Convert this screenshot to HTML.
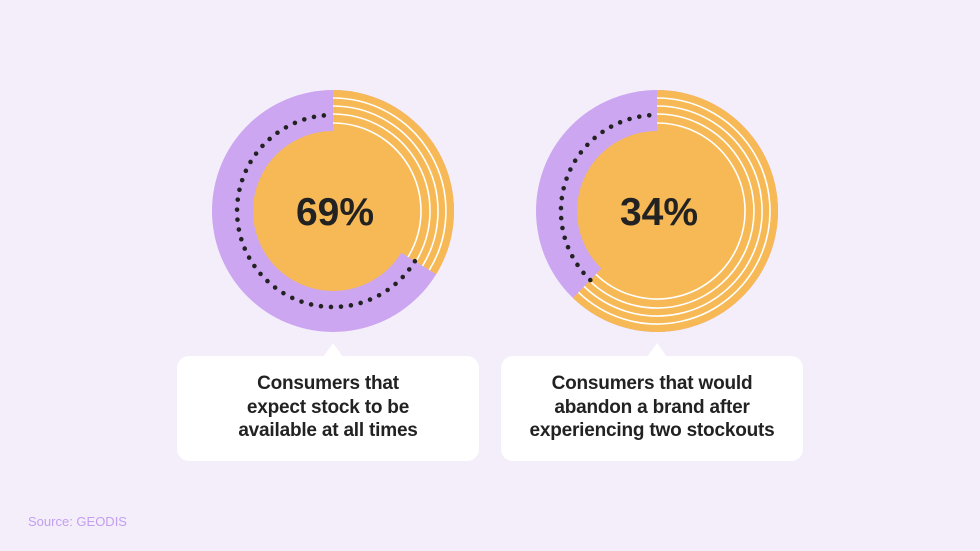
<!DOCTYPE html>
<html><head><meta charset="utf-8"><style>
body{margin:0;width:980px;height:551px;background:#f4eefb;overflow:hidden;font-family:"Liberation Sans",sans-serif}
svg{position:absolute;left:0;top:0}
.box{position:absolute;top:356px;width:302px;height:105px;background:#fff;border-radius:12px;text-align:center;font-weight:bold;font-size:19px;line-height:23.5px;color:#222;box-sizing:border-box;padding-top:16px;letter-spacing:-0.2px}
.src{position:absolute;left:28px;top:514px;font-size:13px;color:#c39ef0}
</style></head><body>
<svg width="980" height="551" viewBox="0 0 980 551">
<g fill="none">
<circle cx="333" cy="211" r="121" fill="#cca6f0"/>
<path d="M333,211 L333,90 A121,121 0 0 1 436.2,274.2 Z" fill="#f6b955"/>
<circle cx="333" cy="211" r="80" fill="#f6b955"/>
<g stroke="#fff" stroke-width="1.6">
<path d="M333,98 A113,113 0 0 1 429.3,270.0"/>
<path d="M333,106 A105,105 0 0 1 422.5,265.9"/>
<path d="M333,114 A97,97 0 0 1 415.7,261.7"/>
<path d="M333,123 A88,88 0 0 1 408.0,257.0"/>
</g>
<path d="M414.9,261.2 A96,96 0 1 1 333,115" stroke="#222" stroke-width="4.6" stroke-linecap="round" stroke-dasharray="0 10"/>

<circle cx="657" cy="211" r="121" fill="#cca6f0"/>
<path d="M657,211 L657,90 A121,121 0 1 1 572.9,298.0 Z" fill="#f6b955"/>
<circle cx="657" cy="211" r="80" fill="#f6b955"/>
<g stroke="#fff" stroke-width="1.6">
<path d="M657,98 A113,113 0 1 1 578.5,292.3"/>
<path d="M657,106 A105,105 0 1 1 584.1,286.5"/>
<path d="M657,114 A97,97 0 1 1 589.6,280.8"/>
<path d="M657,123 A88,88 0 1 1 595.9,274.3"/>
</g>
<path d="M590.3,280.1 A96,96 0 0 1 657,115" stroke="#222" stroke-width="4.6" stroke-linecap="round" stroke-dasharray="0 10"/>
</g>
<polygon points="323,357 333,343 343,357" fill="#fff"/>
<polygon points="647,357 657,343 667,357" fill="#fff"/>
<text x="335" y="225" text-anchor="middle" font-family="Liberation Sans, sans-serif" font-weight="bold" font-size="39" fill="#222">69%</text>
<text x="659" y="225" text-anchor="middle" font-family="Liberation Sans, sans-serif" font-weight="bold" font-size="39" fill="#222">34%</text>
</svg>
<div class="box" style="left:177px">Consumers that<br>expect stock to be<br>available at all times</div>
<div class="box" style="left:501px">Consumers that would<br>abandon a brand after<br>experiencing two stockouts</div>
<div class="src">Source: GEODIS</div>
</body></html>
